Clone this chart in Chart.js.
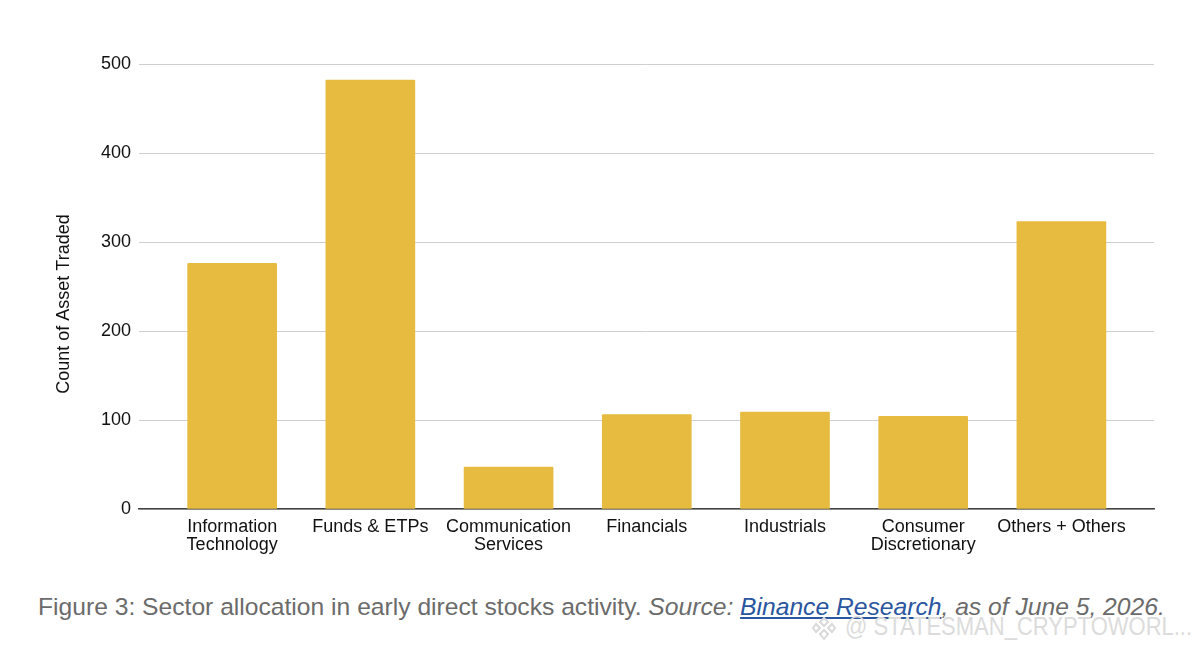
<!DOCTYPE html>
<html><head><meta charset="utf-8">
<script src="https://cdn.jsdelivr.net/npm/chart.js@4"></script>
<style>
html,body{margin:0;padding:0;background:#fff;width:1199px;height:652px;overflow:hidden;font-family:"Liberation Sans",Arial,sans-serif}
#w{position:absolute;left:0;top:0;width:1199px;height:580px}
#cap{position:absolute;left:38px;top:593px;font-size:24.65px;color:#6b6b6b;white-space:nowrap}
#cap a{color:#2a559f;text-decoration:underline}
#wm{position:absolute;left:845px;top:612px;font-size:25px;color:#dcdcdc;white-space:nowrap;transform-origin:0 0;transform:scaleX(0.88)}
#ic{position:absolute;left:811px;top:615px}
</style></head><body>
<div id="w"><canvas id="c" width="1199" height="580"></canvas></div>
<div id="cap">Figure 3: Sector allocation in early direct stocks activity. <i>Source: <a>Binance Research</a>, as of June 5, 2026.</i></div>
<svg id="ic" width="26" height="26" viewBox="0 0 26 26" fill="none" stroke="#d9d9d9" stroke-width="2"><path d="M13 3l4 4-4 4-4-4zM5 9l4 4-4 4-3-4zM21 9l3 4-3 4-4-4zM13 15l4 4-4 5-4-5z"/></svg>
<div id="wm">@ STATESMAN_CRYPTOWORL...</div>
<script>
const categories=[["Information","Technology"],"Funds & ETPs",["Communication","Services"],"Financials","Industrials",["Consumer","Discretionary"],"Others + Others"];
const seriesName="Count of Asset Traded";
const values=[276,482,47,106,109,104,323];
const yTicks=[0,100,200,300,400,500];
Chart.defaults.font.family='"Liberation Sans",Arial,sans-serif';
const axisTitle={id:'axisTitle',afterDraw(ch){const c=ch.ctx;c.save();c.translate(64,304);c.rotate(-Math.PI/2);c.font='18px "Liberation Sans",Arial,sans-serif';c.fillStyle='#111';c.textAlign='center';c.textBaseline='middle';c.fillText(seriesName,0,0);c.restore();}};
new Chart(document.getElementById('c'),{type:'bar',plugins:[axisTitle],
data:{datasets:[{label:seriesName,data:values.map((v,i)=>({x:i,y:v})),backgroundColor:'#e6bb40',barThickness:89,borderRadius:1}]},
options:{responsive:false,animation:false,
layout:{padding:{left:0,right:45,top:64,bottom:0}},
plugins:{legend:{display:false},tooltip:{enabled:false}},
scales:{
x:{type:'linear',min:-0.674,max:6.67,offset:false,afterFit:s=>{s.height=71},afterBuildTicks:a=>{a.ticks=categories.map((c,i)=>({value:i}))},
 grid:{display:false,drawTicks:false},border:{color:'#444',width:1.5},
 ticks:{color:'#111',font:{size:18,lineHeight:1},padding:9,maxRotation:0,minRotation:0,autoSkip:false,callback:v=>categories[v]}},
y:{min:0,max:500,afterFit:s=>{s.width=139},afterBuildTicks:a=>{a.ticks=yTicks.map(v=>({value:v}))},grid:{color:'#cfcfcf',drawTicks:false},border:{display:false},ticks:{color:'#111',font:{size:18},padding:8}}
}}});
</script></body></html>
